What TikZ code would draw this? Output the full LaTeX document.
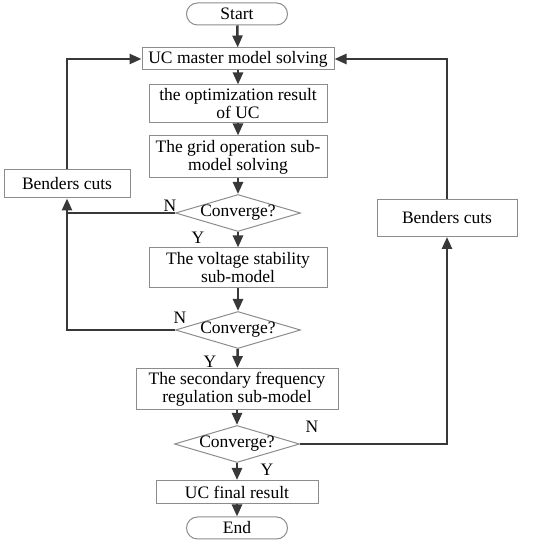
\documentclass[tikz,border=0pt]{standalone}
\usepackage{fontspec}
\setmainfont{Liberation Serif}
\usetikzlibrary{arrows.meta,shapes.geometric}
\begin{document}
\begin{tikzpicture}[x=1pt,y=-1pt]
					\useasboundingbox (0,0) rectangle (550,545);
					\fontsize{17.5}{20}\selectfont
					\tikzstyle{box}=[draw=black!45,line width=1pt,inner sep=0pt,align=center,minimum height=22pt]
					\tikzstyle{term}=[box,rounded corners=11pt,minimum width=101pt]
					\tikzstyle{cond}=[draw=black!45,line width=1pt,shape=diamond,inner sep=0pt,minimum width=125pt,minimum height=37pt]
					\tikzstyle{arr}=[draw=black!78,line width=2.5pt,-{Triangle[length=12pt,width=10pt]}]
					\tikzstyle{lin}=[draw=black!78,line width=2.5pt]
						\path (237,14) node[term] (start) {Start};
						\path (238,59) node[box,minimum width=192pt] (ucm) {UC master model solving};
						\path (238,104) node[box,minimum width=178pt,minimum height=38pt] (opt) {the optimization result\\[-2pt]of UC};
						\path (238,157) node[box,minimum width=178pt,minimum height=42pt] (grid) {The grid operation sub-\\[-2pt]model solving};
						\path (238,213) node[cond,label={center:Converge?}] (c1) {};
						\path (238,268) node[box,minimum width=178pt,minimum height=40pt] (volt) {The voltage stability\\[-2pt]sub-model};
						\path (238,330) node[cond,label={center:Converge?}] (c2) {};
						\path (237,389) node[box,minimum width=202pt,minimum height=41pt] (freq) {The secondary frequency\\[-2pt]regulation sub-model};
						\path (237,444) node[cond,label={center:Converge?}] (c3) {};
						\path (237,492) node[box,minimum width=162pt,minimum height=23pt] (fin) {UC final result};
						\path (237,528) node[term] (end) {End};
						\path (67,184) node[box,minimum width=126pt,minimum height=28pt] (bcl) {Benders cuts};
						\path (447,218) node[box,minimum width=140pt,minimum height=37pt] (bcr) {Benders cuts};
						\path (170,206) node (n1) {N};
						\path (198,238) node (y1) {Y};
						\path (180,318) node (n2) {N};
						\path (210,362) node (y2) {Y};
						\path (312,427) node (n3) {N};
						\path (267,470) node (y3) {Y};
						\draw[arr] (start) -- (ucm);
						\draw[arr] (ucm) -- (opt);
						\draw[arr] (opt) -- (grid);
						\draw[arr] (grid) -- (c1);
						\draw[arr] (c1) -- (volt);
						\draw[arr] (volt) -- (c2);
						\draw[arr] (c2) -- (freq);
						\draw[arr] (freq) -- (c3);
						\draw[arr] (c3) -- (fin);
						\draw[arr] (fin) -- (end);
						\draw[lin] (c1.west) -- (c1.west -| bcl.south);
						\draw[arr] (c2.west) -| (bcl.south);
						\draw[arr] (bcl.north) |- (ucm.west);
						\draw[arr] (c3.east) -| (bcr.south);
						\draw[arr] (bcr.north) |- (ucm.east);
					\end{tikzpicture}
\end{document}
